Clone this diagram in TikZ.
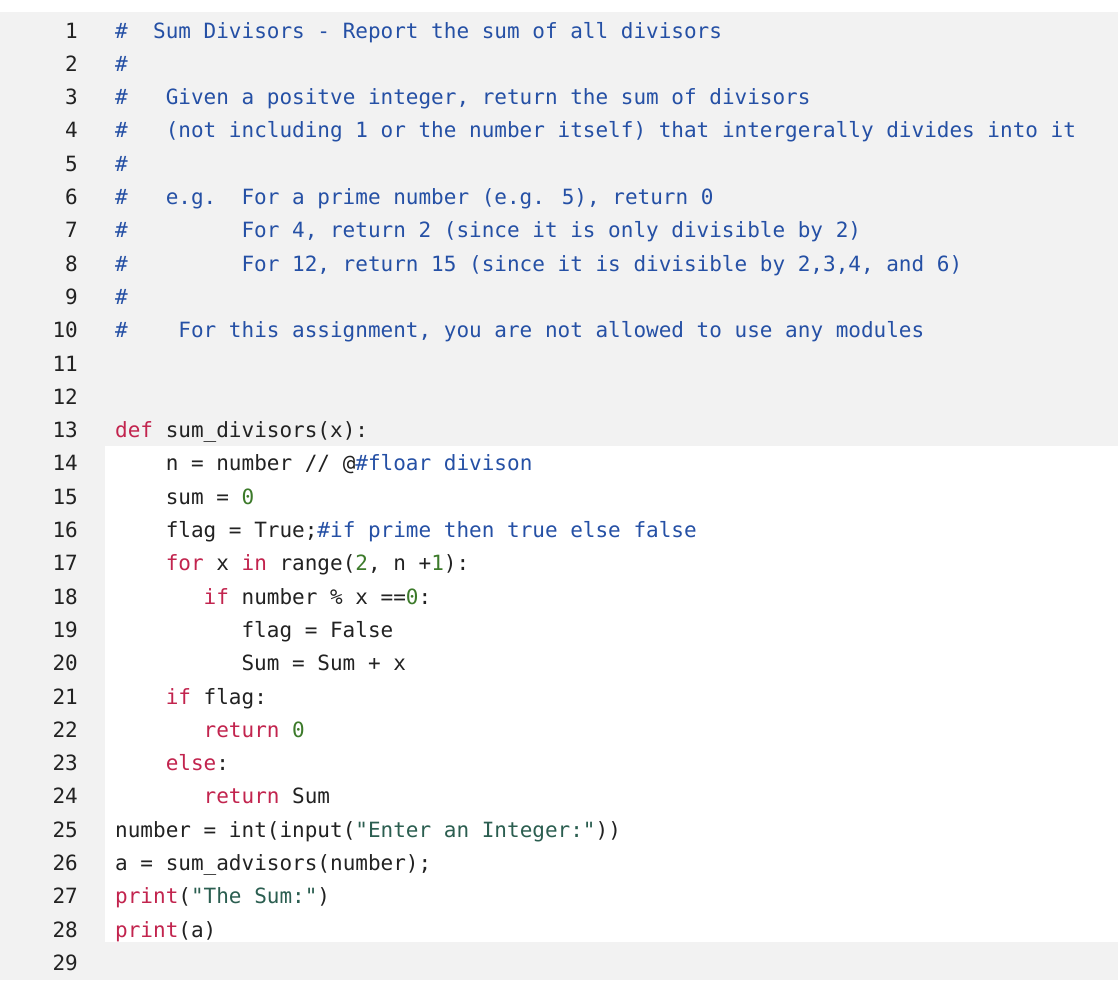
\documentclass[tikz,border=0pt]{standalone}
\usepackage{fontspec}
\newfontfamily\cf{DejaVu Sans Mono}
\definecolor{cb}{HTML}{2550A5}
\definecolor{ck}{HTML}{C2244E}
\definecolor{cn}{HTML}{3C7A2A}
\definecolor{cs}{HTML}{2B5E50}
\definecolor{ct}{HTML}{222222}
\definecolor{bg}{HTML}{F2F2F2}
\newcommand\cl[3]{\node[anchor=base west,inner sep=0,text=ct,font=\cf\fontsize{21}{24}\selectfont] at ({115+#2*12.64},{-(38+33.3*(#1-1))}) {#3};}
\newcommand\lnum[1]{\node[anchor=base east,inner sep=0,text=ct,font=\cf\fontsize{21}{24}\selectfont] at (78,{-(38+33.3*(#1-1))}) {#1};}
\begin{document}
\begin{tikzpicture}[x=1pt,y=1pt]
\useasboundingbox (0,0) rectangle (1118,-988);
\fill[white] (0,0) rectangle (1118,-988);
\fill[bg] (0,-12) rectangle (1118,-446);
\fill[bg] (0,-446) rectangle (105,-942);
\fill[bg] (0,-942) rectangle (1118,-980);
\foreach \i in {1,...,29} {\lnum{\i}}
\foreach \i in {1,...,10} {\cl{\i}{0}{\textcolor{cb}{\#}}}
\cl{1}{3}{\textcolor{cb}{Sum Divisors - Report the sum of all divisors}}
\cl{3}{4}{\textcolor{cb}{Given a positve integer, return the sum of divisors}}
\cl{4}{4}{\textcolor{cb}{(not including 1 or the number itself) that intergerally divides into it}}
\cl{6}{4}{\textcolor{cb}{e.g.}}
\cl{6}{10}{\textcolor{cb}{For a prime number (e.g. 5), return 0}}
\cl{7}{10}{\textcolor{cb}{For 4, return 2 (since it is only divisible by 2)}}
\cl{8}{10}{\textcolor{cb}{For 12, return 15 (since it is divisible by 2,3,4, and 6)}}
\cl{10}{5}{\textcolor{cb}{For this assignment, you are not allowed to use any modules}}
\cl{13}{0}{\textcolor{ck}{def}}
\cl{13}{4}{sum\_divisors(x):}
\cl{14}{4}{n = number // @\textcolor{cb}{\#floar divison}}
\cl{15}{4}{sum = \textcolor{cn}{0}}
\cl{16}{4}{flag = True;\textcolor{cb}{\#if prime then true else false}}
\cl{17}{4}{\textcolor{ck}{for} x \textcolor{ck}{in} range(\textcolor{cn}{2}, n +\textcolor{cn}{1}):}
\cl{18}{7}{\textcolor{ck}{if} number \% x ==\textcolor{cn}{0}:}
\cl{19}{10}{flag = False}
\cl{20}{10}{Sum = Sum + x}
\cl{21}{4}{\textcolor{ck}{if} flag:}
\cl{22}{7}{\textcolor{ck}{return} \textcolor{cn}{0}}
\cl{23}{4}{\textcolor{ck}{else}:}
\cl{24}{7}{\textcolor{ck}{return} Sum}
\cl{25}{0}{number = int(input(\textcolor{cs}{"Enter an Integer:"}))}
\cl{26}{0}{a = sum\_advisors(number);}
\cl{27}{0}{\textcolor{ck}{print}(\textcolor{cs}{"The Sum:"})}
\cl{28}{0}{\textcolor{ck}{print}(a)}
\end{tikzpicture}
\end{document}
